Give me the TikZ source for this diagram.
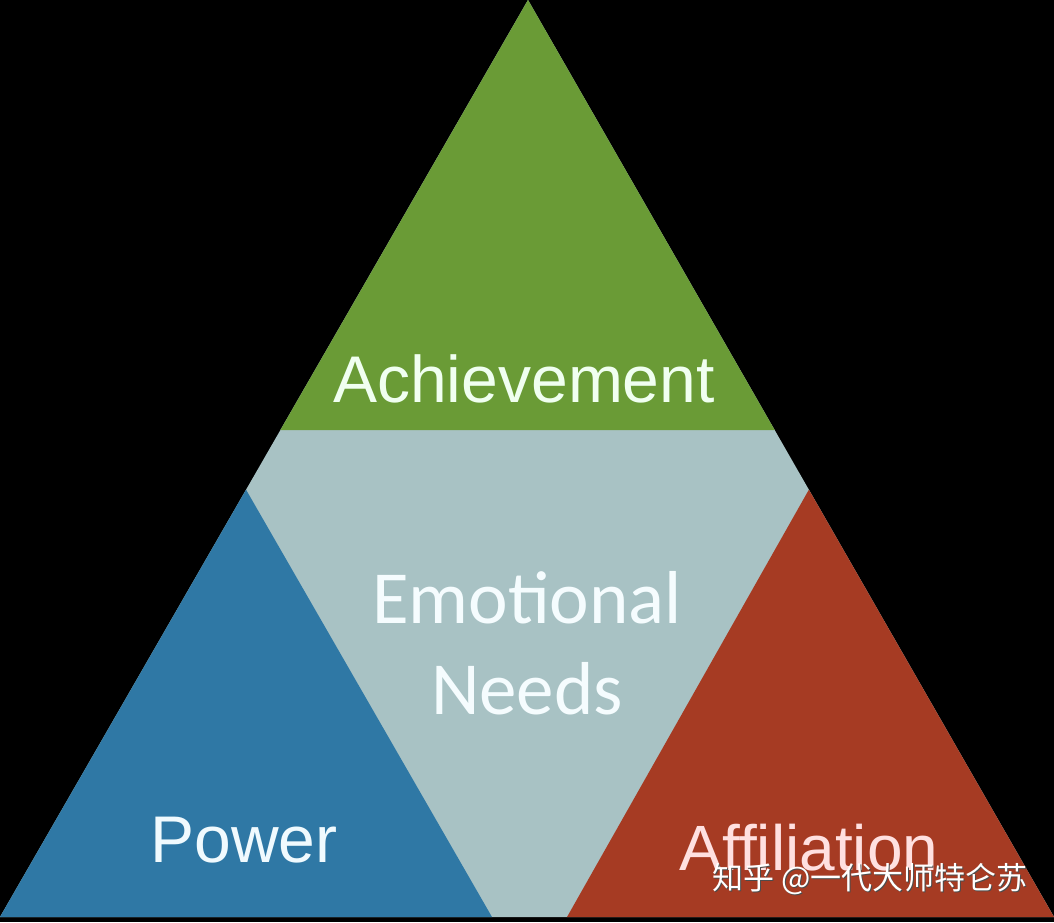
\documentclass[tikz,border=0pt]{standalone}
\usepackage{fontspec}
\setmainfont{Liberation Sans}
\newfontfamily\calibfont{Carlito}
\newfontfamily\cjk{Noto Sans CJK SC}
\usetikzlibrary{calc}
\definecolor{achgreen}{HTML}{6A9B36}
\definecolor{needgray}{HTML}{A8C2C4}
\definecolor{powblue}{HTML}{2F78A5}
\definecolor{affred}{HTML}{A63B23}
\tikzset{
  part/.style={fill=#1, draw=none},
  lbl/.style={text=#1, inner sep=0pt, anchor=base, font=\fontsize{66}{70}\selectfont},
  mark text/.style={inner sep=0pt, anchor=base west, font=\cjk\fontsize{31}{34}\selectfont},
}

\begin{document}
\begin{tikzpicture}[x=1pt, y=-1pt]
    \fill[black] (0,0) rectangle (1054,922);
    \coordinate (top) at (528,0);
    \coordinate (bl) at (0,917);
    \coordinate (br) at (1054,917);
    \coordinate (gl) at ($(top)!0.469!(bl)$);
    \coordinate (gr) at ($(top)!0.469!(br)$);
    \coordinate (pl) at ($(top)!0.534!(bl)$);
    \coordinate (ar) at ($(top)!0.534!(br)$);
    \coordinate (pb) at (492,917);
    \coordinate (ab) at (567,917);
    \fill[part=needgray] (top) -- (bl) -- (br) -- cycle;
    \fill[part=achgreen] (top) -- (gl) -- (gr) -- cycle;
    \fill[part=powblue] (pl) -- (bl) -- (pb) -- cycle;
    \fill[part=affred] (ar) -- (br) -- (ab) -- cycle;
    \node[lbl=green!6!white] (ach) at (524,402) {Achievement};
    \node[lbl=white!96!cyan, font=\calibfont\fontsize{75}{80}\selectfont] (emo) at (527,623) {Emotional};
    \node[lbl=white!96!cyan, font=\calibfont\fontsize{75}{80}\selectfont] (need) at (527,714) {Needs};
    \node[lbl=cyan!6!white] (pow) at (244,862) {Power};
    \node[lbl=red!12!white, font=\fontsize{64}{70}\selectfont] (aff) at (809,870) {Affiliation};
    \node[mark text, text=black!70] (zhs) at (713.5,890.5) {知乎 @一代大师特仑苏};
    \node[mark text, text=white] (zh) at (712,889) {知乎 @一代大师特仑苏};
\end{tikzpicture}
\end{document}
